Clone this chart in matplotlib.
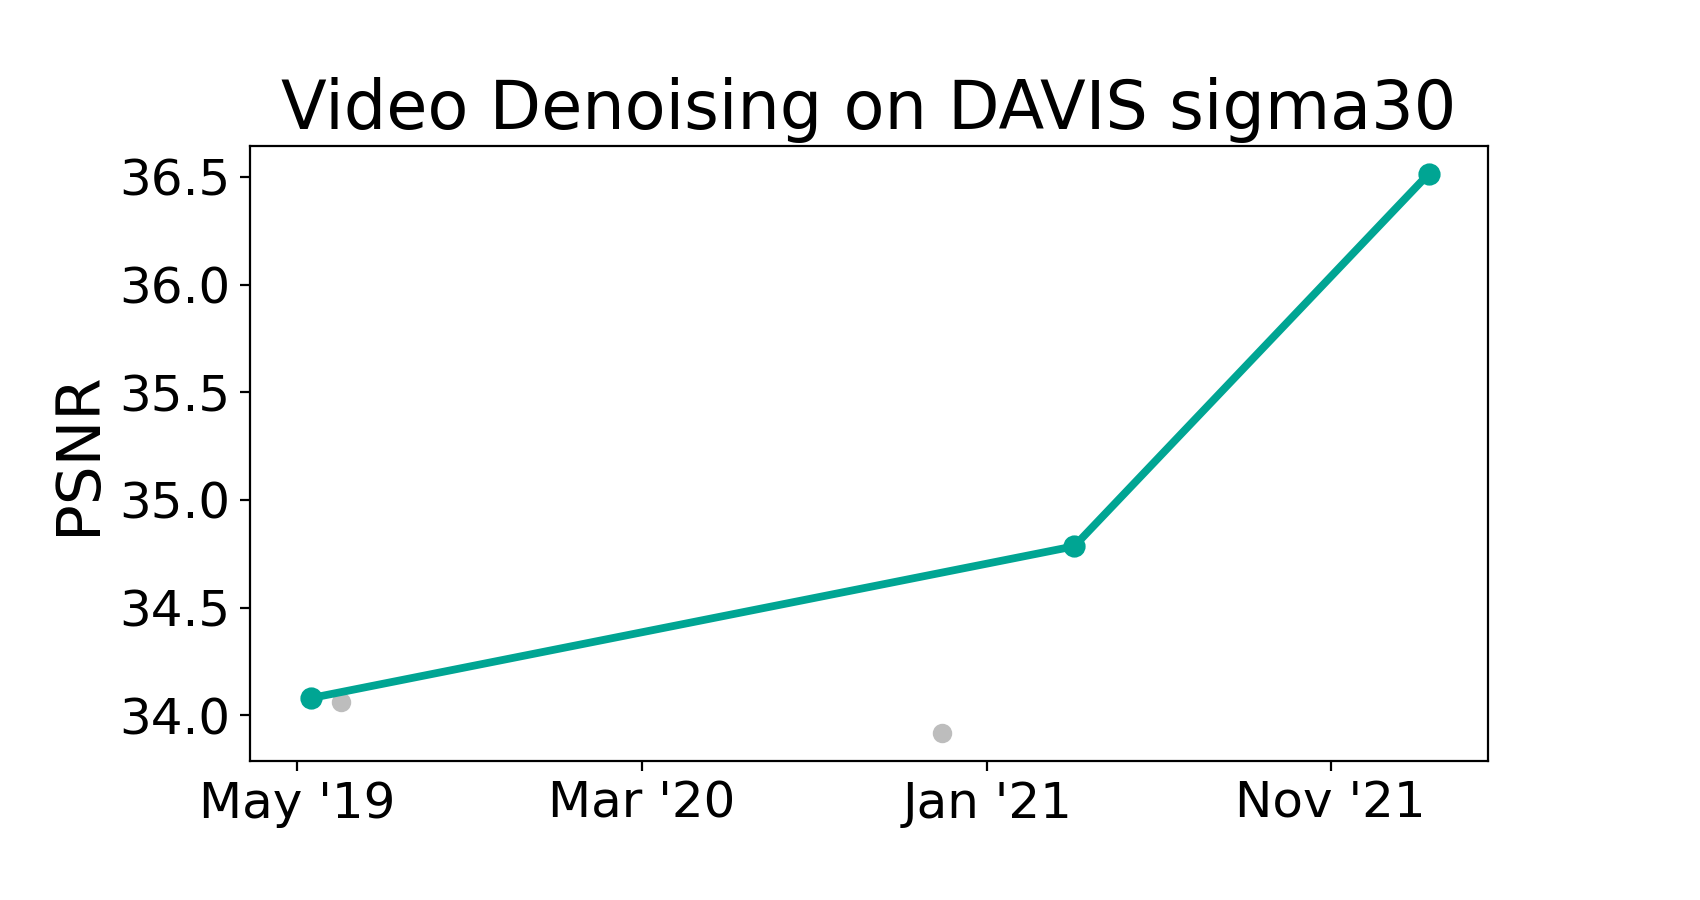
import matplotlib
matplotlib.use("Agg")
import matplotlib.pyplot as plt
import matplotlib.dates as mdates
import pandas as pd

# State-of-the-art progression (teal line)
SOTA_DATES = ["2019-05-13", "2021-03-19", "2022-01-27"]
SOTA_PSNR = [34.08, 34.785, 36.515]

# Other submissions (gray dots)
OTHER_DATES = ["2019-06-09", "2020-11-22"]
OTHER_PSNR = [34.06, 33.92]

TICK_DATES = ["2019-05-01", "2020-03-01", "2021-01-01", "2021-11-01"]
X_RANGE = ["2019-03-20", "2022-03-20"]

TEAL = "#00A593"
GRAY = "#BDBDBD"

fig = plt.figure(figsize=(8.5, 4.5), dpi=200)
ax = fig.add_axes([0.147, 0.155, 0.728, 0.683])

ax.plot(pd.to_datetime(OTHER_DATES), OTHER_PSNR, "o", color=GRAY,
        markersize=6, zorder=2)
ax.plot(pd.to_datetime(SOTA_DATES), SOTA_PSNR, "o-", color=TEAL,
        linewidth=2.8, markersize=7, zorder=3)

ax.set_xlim(pd.to_datetime(X_RANGE))
ax.set_xticks(pd.to_datetime(TICK_DATES))
ax.xaxis.set_major_formatter(mdates.DateFormatter("%b '%y"))
ax.set_yticks([34.0, 34.5, 35.0, 35.5, 36.0, 36.5])
ax.tick_params(labelsize=18)

ax.set_ylabel("PSNR", fontsize=22)
ax.set_title("Video Denoising on DAVIS sigma30", fontsize=24.1)

fig.savefig("out.png", dpi=200)
